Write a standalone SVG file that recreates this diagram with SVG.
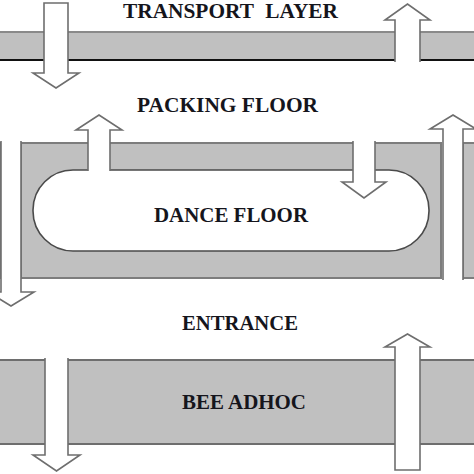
<svg xmlns="http://www.w3.org/2000/svg" width="474" height="474" viewBox="0 0 474 474">
  <style>
    .bar { fill: #c0c0c0; }
    .arrow { fill: #ffffff; stroke: #6e6e6e; stroke-width: 1.6; stroke-linejoin: miter; }
    .label { font-family: "Liberation Serif", "Times New Roman", serif; font-weight: bold; font-size: 20px; fill: #15151c; }
  </style>
  <rect x="0" y="0" width="474" height="474" fill="#ffffff"/>

  <g id="transport-layer">
    <rect class="bar" x="-2" y="32" width="478" height="28"/>
    <line x1="-2" y1="32" x2="476" y2="32" stroke="#8a8a8a" stroke-width="2"/>
    <line x1="-2" y1="60" x2="476" y2="60" stroke="#111111" stroke-width="2"/>
    <text class="label" x="123" y="18" textLength="215" lengthAdjust="spacingAndGlyphs" style="word-spacing:6px">TRANSPORT LAYER</text>
  </g>

  <g id="packing-floor">
    <rect class="bar" x="-10" y="143" width="11" height="135" stroke="#7d7d7d" stroke-width="2"/>
    <rect class="bar" x="21" y="143" width="420" height="135" stroke="#7d7d7d" stroke-width="2"/>
    <rect class="bar" x="463" y="143" width="20" height="135" stroke="#7d7d7d" stroke-width="2"/>
    <text class="label" x="137" y="112" textLength="181" lengthAdjust="spacingAndGlyphs">PACKING FLOOR</text>
  </g>

  <g id="dance-floor">
    <rect x="33" y="170" width="396" height="81" rx="40" ry="40" fill="#ffffff" stroke="#4a4a4a" stroke-width="1.6"/>
    <text class="label" x="154" y="222" textLength="154" lengthAdjust="spacingAndGlyphs">DANCE FLOOR</text>
  </g>

  <g id="entrance">
    <text class="label" x="182" y="330" textLength="116" lengthAdjust="spacingAndGlyphs">ENTRANCE</text>
  </g>

  <g id="bee-adhoc">
    <rect class="bar" x="-2" y="360" width="478" height="84" stroke="#6e6e6e" stroke-width="2"/>
    <text class="label" x="182" y="409" textLength="124" lengthAdjust="spacingAndGlyphs">BEE ADHOC</text>
  </g>

  <g id="connectors">
    <path class="arrow" d="M44,3 H68 V73 H79 L56,88 L33,73 H44 Z"/>
    <path class="arrow" d="M395,62 V20 H385 L407.5,4 L430,20 H420 V62"/>
    <path class="arrow" d="M88,171 V130 H76 L99,115 L122,130 H110 V171"/>
    <path class="arrow" d="M353,141 V182 H342 L364,198 L386,182 H375 V141"/>
    <path class="arrow" d="M1,141 V292 H-12 L11,306 L34,292 H21 V141"/>
    <path class="arrow" d="M443,280 V129 H430 L453,115 L476,129 H463 V280"/>
    <path class="arrow" d="M45,358 V455 H33 L56.5,471 L80,455 H68 V358"/>
    <path class="arrow" d="M395,470 V347 H385 L407.5,334 L430,347 H420 V470 Z"/>
  </g>
</svg>
